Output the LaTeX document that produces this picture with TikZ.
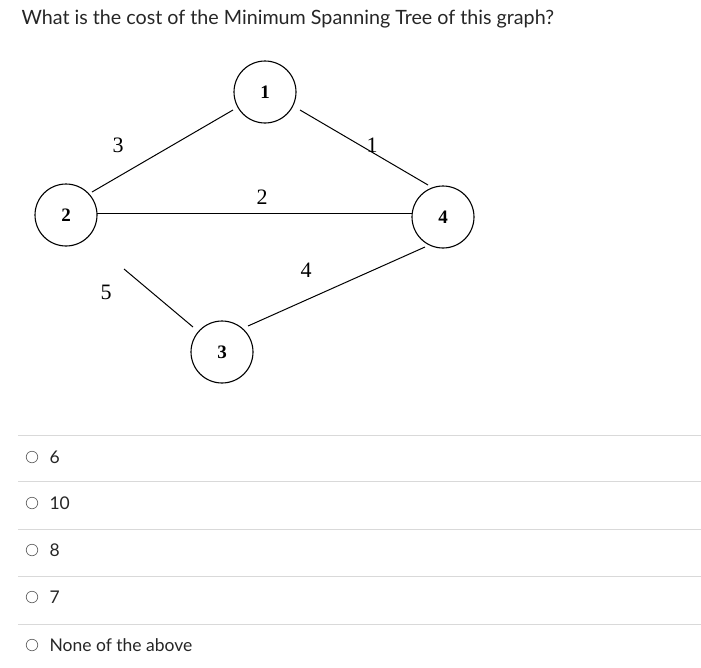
\documentclass[tikz,border=0pt]{standalone}
\usepackage{fontspec}
\setmainfont{Lato}
\newfontfamily\gfont{Liberation Serif}
\begin{document}
\begin{tikzpicture}[x=1pt,y=-1pt,
  vtx/.style={circle,draw,line width=1.1pt,minimum size=62pt,inner sep=0pt,font=\gfont\bfseries\fontsize{19}{19}\selectfont},
  edge/.style={line width=1pt},
  wlab/.style={font=\gfont\fontsize{22}{22}\selectfont},
  sep/.style={draw=black!15,line width=0.8pt},
  radio/.style={circle,draw=black!60,line width=0.7pt,minimum size=11.5pt,inner sep=0pt},
  opt/.style={anchor=west,font=\fontsize{17.5}{17.5}\selectfont,text=black!85}]
\useasboundingbox (0,0) rectangle (701,667);
\node[anchor=west,font=\fontsize{19.7}{19.7}\selectfont,text=black!85] (title) at (18,19) {What is the cost of the Minimum Spanning Tree of this graph?};
\node[vtx] (n1) at (265,92) {1};
\node[vtx] (n2) at (66,215) {2};
\node[vtx] (n4) at (443,217) {4};
\node[vtx] (n3) at (222,352) {3};
\coordinate (a1) at (92,192); \coordinate (a2) at (233,110);
\draw[edge] (a1) -- (a2);
\coordinate (b1) at (300,110); \coordinate (b2) at (428,185);
\draw[edge] (b1) -- (b2);
\coordinate (c1) at (97,213); \coordinate (c2) at (412,213);
\draw[edge] (c1) -- (c2);
\coordinate (d1) at (124,269); \coordinate (d2) at (193,327);
\draw[edge] (d1) -- (d2);
\coordinate (e1) at (248,326); \coordinate (e2) at (425,247);
\draw[edge] (e1) -- (e2);
\node[wlab] (w3) at (118,145) {3};
\node[wlab] (w1) at (372,145) {1};
\node[wlab] (w2) at (262,197) {2};
\node[wlab] (w5) at (106,292) {5};
\node[wlab] (w4) at (306,270) {4};
\foreach \y in {435,481,529,576,624} \draw[sep] (18,\y) -- (701,\y);
\foreach \y/\t/\n in {457/6/o1,503/10/o2,550/8/o3,597/7/o4,645/None of the above/o5}{
  \node[radio] (r\n) at (32,\y) {};
  \node[opt] (t\n) at (46,\y) {\t};
}
\end{tikzpicture}
\end{document}
